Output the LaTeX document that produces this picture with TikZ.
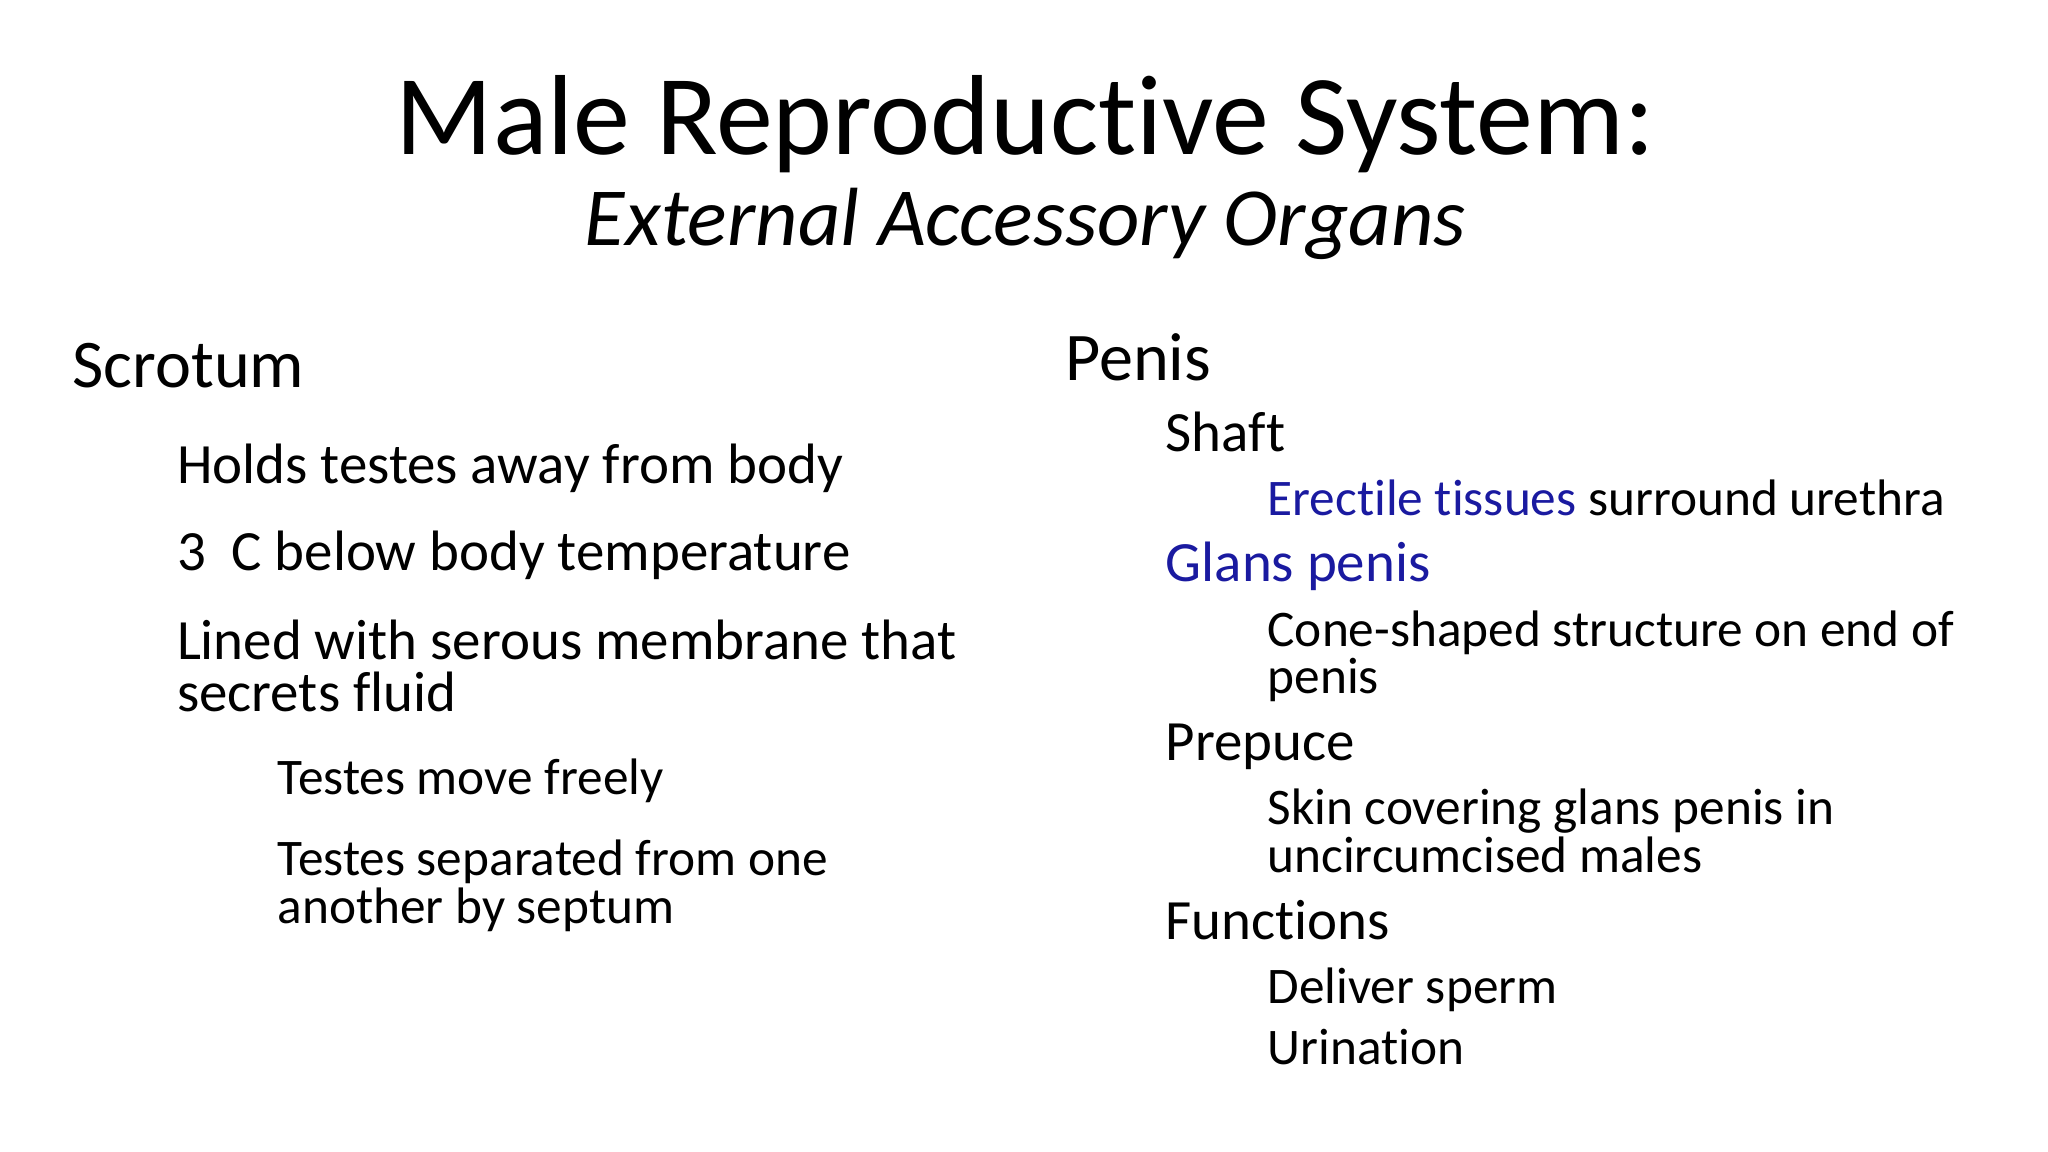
\documentclass[tikz,border=0pt]{standalone}
\usepackage{fontspec}
\setmainfont{Carlito}[Ligatures={NoCommon}]
\definecolor{bl}{RGB}{26,26,160}
\begin{document}
\begin{tikzpicture}[x=0.013061cm,y=-0.013061cm,
  t/.style={anchor=base west,inner sep=0pt},
  L1/.style={t,font=\fontsize{19.4}{22}\selectfont},
  L2/.style={t,font=\fontsize{16.2}{19}\selectfont},
  L3/.style={t,font=\fontsize{14.6}{17}\selectfont}]
\useasboundingbox (0,0) rectangle (1568,882);
\node[anchor=base,inner sep=0pt,font=\fontsize{32.4}{36}\selectfont] (title) at (785,118) {Male Reproductive System:};
\node[anchor=base,inner sep=0pt,font=\fontsize{23.5}{28}\selectfont\itshape] (sub) at (785,188) {External Accessory Organs};
\node[L1] (scr) at (55,297) {Scrotum};
\node[L2] (a1) at (135,370) {Holds testes away from body};
\node[L2] (a2) at (135,437) {3\ \ C below body temperature};
\node[L2] (a3) at (135,505) {Lined with serous membrane that};
\node[L2] (a3b) at (135,545) {secrets fluid};
\node[L3] (b1) at (212,608) {Testes move freely};
\node[L3] (b2) at (212,670) {Testes separated from one};
\node[L3] (b2b) at (212,707) {another by septum};
\node[L1] (pen) at (815,291) {Penis};
\node[L2] (sh) at (892,346) {Shaft};
\node[L3] (er) at (970,395) {\textcolor{bl}{Erectile tissues} surround urethra};
\node[L2,text=bl] (gl) at (892,445) {Glans penis};
\node[L3] (co) at (970,495) {Cone-shaped structure on end of};
\node[L3] (cob) at (970,531) {penis};
\node[L2] (pr) at (892,582) {Prepuce};
\node[L3] (sk) at (970,631) {Skin covering glans penis in};
\node[L3] (skb) at (970,668) {uncircumcised males};
\node[L2] (fu) at (892,719) {Functions};
\node[L3] (de) at (970,768) {Deliver sperm};
\node[L3] (ur) at (970,815) {Urination};
\end{tikzpicture}
\end{document}
